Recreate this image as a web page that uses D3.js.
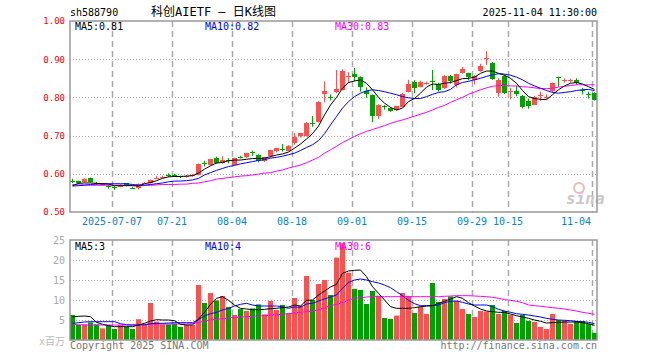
<!DOCTYPE html>
<html>
<head>
<meta charset="utf-8">
<script src="https://cdn.jsdelivr.net/npm/d3@7"></script>
<style>
  body { margin: 0; background: #fff; }
  text { font-family: "DejaVu Sans Mono", "Noto Sans CJK SC", monospace; }
</style>
</head>
<body>
<div id="chart"></div>
<script>
// sh588790 daily K chart, 2025-06-26 .. 2025-11-04

let dates = ["06-26","06-27","06-30","07-01","07-02","07-03","07-04",
  "07-07","07-08","07-09","07-10","07-11","07-14","07-15","07-16","07-17","07-18",
  "07-21","07-22","07-23","07-24","07-25","07-28","07-29","07-30","07-31","08-01",
  "08-04","08-05","08-06","08-07","08-08","08-11","08-12","08-13","08-14","08-15",
  "08-18","08-19","08-20","08-21","08-22","08-25","08-26","08-27","08-28","08-29",
  "09-01","09-02","09-03","09-04","09-05","09-08","09-09","09-10","09-11","09-12",
  "09-15","09-16","09-17","09-18","09-19","09-22","09-23","09-24","09-25","09-26",
  "09-29","09-30","10-09","10-10","10-13","10-14","10-15","10-16","10-17",
  "10-20","10-21","10-22","10-23","10-24","10-27","10-28","10-29","10-30","10-31",
  "11-03","11-04"];

let open  = [0.582,0.580,0.579,0.589,0.576,0.571,0.568,0.566,0.568,0.575,0.564,0.564,0.575,0.575,0.589,0.591,0.597,0.597,0.593,0.593,0.595,0.598,
             0.628,0.623,0.641,0.629,0.635,0.623,0.644,0.643,0.656,0.649,0.632,0.647,0.658,0.665,0.660,0.680,0.697,0.699,0.733,0.736,0.809,0.801,
             0.813,0.819,0.856,0.861,0.853,0.818,0.806,0.750,0.778,0.773,0.767,0.776,0.815,0.841,0.828,0.836,0.844,0.834,0.824,0.857,0.832,0.863,
             0.863,0.846,0.869,0.901,0.891,0.811,0.857,0.817,0.817,0.804,0.791,0.782,0.804,0.801,0.815,0.853,0.844,0.844,0.846,0.820,0.809,0.811];
let high  = [0.587,0.582,0.588,0.590,0.579,0.575,0.571,0.568,0.573,0.576,0.566,0.575,0.578,0.585,0.595,0.595,0.601,0.600,0.595,0.597,0.599,0.627,
             0.634,0.639,0.645,0.646,0.641,0.642,0.647,0.655,0.661,0.651,0.644,0.663,0.668,0.678,0.675,0.707,0.707,0.736,0.751,0.790,0.842,0.808,
             0.872,0.873,0.866,0.877,0.855,0.826,0.808,0.782,0.780,0.775,0.778,0.812,0.846,0.845,0.844,0.841,0.872,0.838,0.858,0.859,0.862,0.880,
             0.865,0.858,0.888,0.921,0.893,0.850,0.859,0.825,0.830,0.806,0.797,0.804,0.815,0.808,0.839,0.854,0.850,0.849,0.850,0.825,0.815,0.813];
let low   = [0.576,0.573,0.577,0.577,0.571,0.569,0.561,0.558,0.565,0.567,0.561,0.559,0.573,0.574,0.586,0.589,0.591,0.592,0.589,0.590,0.593,0.596,
             0.619,0.622,0.627,0.626,0.627,0.622,0.640,0.641,0.647,0.630,0.631,0.643,0.656,0.658,0.659,0.676,0.695,0.698,0.723,0.734,0.787,0.792,
             0.811,0.818,0.838,0.842,0.815,0.799,0.735,0.743,0.768,0.762,0.765,0.775,0.813,0.811,0.826,0.833,0.819,0.815,0.822,0.836,0.826,0.862,
             0.845,0.834,0.867,0.885,0.846,0.802,0.809,0.795,0.803,0.771,0.770,0.780,0.791,0.795,0.813,0.828,0.838,0.839,0.833,0.808,0.797,0.792];
let close = [0.581,0.575,0.586,0.579,0.575,0.572,0.567,0.565,0.569,0.569,0.563,0.574,0.576,0.584,0.590,0.592,0.596,0.596,0.592,0.594,0.596,0.626,
             0.627,0.638,0.629,0.636,0.634,0.641,0.643,0.654,0.655,0.632,0.643,0.662,0.667,0.664,0.674,0.697,0.706,0.734,0.732,0.789,0.818,0.800,
             0.822,0.870,0.857,0.854,0.828,0.809,0.752,0.780,0.777,0.764,0.777,0.809,0.835,0.824,0.840,0.837,0.843,0.819,0.856,0.843,0.860,0.874,
             0.853,0.856,0.883,0.902,0.848,0.846,0.813,0.818,0.809,0.776,0.777,0.802,0.805,0.802,0.837,0.851,0.845,0.845,0.837,0.819,0.808,0.793];

// volume, millions of shares
let volume = [6.25,3.75,3.9,4.4,3.9,2.9,3.6,2.75,3.75,3.3,2.75,5.2,3.75,9.25,4.6,3.9,3.9,4.1,3.25,3.75,3.75,13.75,
              9.25,11.75,9.9,11,8.25,6.25,7.75,7.25,7.9,8.9,6.4,9.75,7.5,8.75,6.7,10.5,8.6,16,10,14,15,11.25,
              20.6,24.2,16.8,12.8,12.5,9,12.25,11.1,5.5,5.25,6.1,11.75,11,6.75,8.3,6.5,14.25,9.5,10.25,10.9,9.8,7.75,
              6.5,5.75,7.25,7.1,8.75,6.5,7.25,6.25,4.25,6.25,4.8,4.5,3.25,2.75,6.5,5,4.9,4,4.75,4.75,4,1.8];

// moving averages as drawn on the chart
let ma5  = [0.569,0.575,0.576,0.576,0.575,0.574,0.573,0.569,0.569,0.569,0.569,0.568,0.574,0.577,0.582,0.588,0.592,0.593,0.593,0.594,0.595,0.602,
            0.612,0.621,0.628,0.630,0.634,0.636,0.636,0.638,0.640,0.640,0.641,0.645,0.649,0.652,0.657,0.667,0.678,0.691,0.705,0.725,0.754,0.780,
            0.800,0.824,0.839,0.843,0.846,0.837,0.820,0.800,0.785,0.774,0.767,0.772,0.789,0.797,0.811,0.827,0.835,0.834,0.837,0.839,0.844,0.849,
            0.850,0.853,0.863,0.869,0.869,0.863,0.858,0.850,0.837,0.818,0.802,0.797,0.795,0.794,0.807,0.820,0.830,0.837,0.839,0.835,0.828,0.821];
let ma10 = [0.568,0.569,0.570,0.572,0.573,0.574,0.574,0.574,0.574,0.574,0.572,0.570,0.570,0.572,0.574,0.576,0.579,0.581,0.581,0.582,0.584,0.588,
            0.597,0.603,0.609,0.614,0.619,0.622,0.626,0.629,0.632,0.635,0.637,0.641,0.643,0.646,0.650,0.654,0.661,0.669,0.676,0.687,0.705,0.728,
            0.750,0.772,0.789,0.802,0.811,0.817,0.820,0.818,0.815,0.811,0.807,0.802,0.799,0.797,0.797,0.802,0.808,0.813,0.815,0.821,0.833,0.839,
            0.842,0.846,0.850,0.855,0.859,0.862,0.861,0.858,0.853,0.846,0.837,0.830,0.824,0.818,0.813,0.811,0.813,0.815,0.818,0.820,0.821,0.818];
let ma30 = [0.572,0.571,0.571,0.570,0.570,0.570,0.570,0.570,0.570,0.570,0.570,0.570,0.570,0.570,0.571,0.572,0.572,0.572,0.573,0.573,0.575,0.576,
            0.579,0.582,0.586,0.588,0.590,0.592,0.594,0.595,0.597,0.599,0.602,0.603,0.607,0.610,0.615,0.619,0.623,0.629,0.636,0.643,0.654,0.663,
            0.672,0.682,0.690,0.698,0.705,0.711,0.716,0.721,0.726,0.732,0.737,0.741,0.746,0.751,0.756,0.761,0.767,0.774,0.779,0.787,0.794,0.800,
            0.808,0.814,0.820,0.825,0.829,0.831,0.831,0.830,0.830,0.828,0.827,0.825,0.823,0.823,0.824,0.827,0.829,0.831,0.833,0.833,0.833,0.833];

let vma5  = [5.75,5.92,6.0,5.83,4.42,3.92,3.58,3.33,3.33,3.33,3.33,3.75,4.17,4.75,5.08,5.0,5.0,4.83,3.92,3.75,3.75,5.25,
             6.92,8.92,10.42,10.83,9.92,8.75,7.92,7.75,7.58,7.58,7.67,7.83,7.92,8.08,8.25,8.75,8.5,9.92,10.0,11.25,12.25,13.25,
             13.92,16.67,17.25,17.42,17.5,15.83,13.33,11.67,10.0,8.33,7.92,7.92,7.92,8.08,8.33,8.5,8.58,9.17,9.67,10.25,10.83,10.42,
             9.33,8.5,7.75,7.25,7.08,6.92,6.92,6.5,6.08,5.75,5.42,5.0,4.67,4.25,4.33,4.42,4.5,4.5,4.5,4.33,4.08,3.67];
let vma10 = [4.17,4.33,4.5,4.58,4.58,4.58,4.58,4.58,4.08,3.83,3.75,3.75,3.83,4.08,4.17,4.17,4.25,4.33,4.33,4.33,4.33,5.08,
             6.0,6.58,6.92,7.5,7.92,8.5,8.92,9.17,8.75,8.5,8.5,8.5,8.5,8.33,7.92,8.25,8.17,9.0,9.17,9.75,10.25,10.75,
             11.25,12.92,14.42,15.0,15.25,15.0,14.58,14.25,13.75,13.08,12.08,11.08,9.92,9.08,8.58,8.58,8.58,8.75,9.33,9.67,9.75,9.42,
             9.0,8.75,8.75,8.75,8.33,7.67,7.25,6.92,6.58,6.42,6.25,6.0,5.75,5.42,5.17,5.0,4.92,4.83,4.67,4.58,4.42,4.08];
let vma30 = [3.92,3.83,3.75,3.75,3.75,3.75,3.75,3.75,3.75,3.75,3.75,3.75,3.83,3.92,4.0,4.0,4.0,4.0,4.0,4.0,4.08,4.33,
             4.75,5.0,5.17,5.33,5.5,5.67,5.75,5.83,5.92,6.0,6.08,6.25,6.33,6.42,6.58,6.75,6.92,7.08,7.25,7.58,8.0,8.58,
             8.92,9.33,10.0,10.42,10.58,10.75,10.83,10.83,10.83,10.83,10.83,10.83,10.83,10.83,10.83,10.83,10.83,10.83,10.92,11.0,11.08,11.08,
             11.08,11.0,10.92,10.83,10.67,10.42,10.08,9.92,9.67,9.33,8.75,8.58,8.42,8.25,8.08,7.92,7.75,7.5,7.25,6.92,6.67,6.42];

let dateTicks  = ["07-07","07-21","08-04","08-18","09-01","09-15","09-29","10-15","11-04"];
let dateLabels = ["2025-07-07","07-21","08-04","08-18","09-01","09-15","09-29","10-15","11-04"];
let priceTicks = [0.50, 0.60, 0.70, 0.80, 0.90, 1.00];
let volTicks   = [5, 10, 15, 20, 25];

let red = "#ff5050", green = "#00a000";
let left = 70, right = 597;

let svg = d3.select("#chart").append("svg")
  .attr("width", 660)
  .attr("height", 360);

let xScale = d3.scaleLinear().domain([0, dates.length]).range([left, left + 6 * dates.length]);
let yScale = d3.scaleLinear().domain([0.5, 1.0]).range([212, 21]);
let vScale = d3.scaleLinear().domain([0, 25]).range([340, 240]);
let barW = 5;

function crisp(v) { return Math.round(v) + 0.5; }

////////////////////////////////////////////////////////////////////////
// header

svg.append("text").attr("x", 70).attr("y", 16).attr("font-size", 10).attr("fill", "#000")
  .text("sh588790");
svg.append("text").attr("x", 151).attr("y", 16).attr("font-size", 12).attr("fill", "#000")
  .text("科创AIETF — 日K线图");
svg.append("text").attr("x", 597).attr("y", 16).attr("font-size", 10).attr("fill", "#000")
  .attr("text-anchor", "end").text("2025-11-04 11:30:00");

////////////////////////////////////////////////////////////////////////
// grids for both panels

function drawGrid(g, yTop, yBot, yVals, ys) {
  g.selectAll(".hgrid").data(yVals).enter().append("line")
    .attr("x1", left).attr("x2", right)
    .attr("y1", d => crisp(ys(d))).attr("y2", d => crisp(ys(d)))
    .attr("stroke", "#aaa").attr("stroke-dasharray", "1,2");
  g.selectAll(".vgrid").data(dateTicks).enter().append("line")
    .attr("x1", d => crisp(xScale(dates.indexOf(d))))
    .attr("x2", d => crisp(xScale(dates.indexOf(d))))
    .attr("y1", yTop).attr("y2", yBot)
    .attr("stroke", "#aaa").attr("stroke-width", 1.5).attr("stroke-dasharray", "6,4");
}

let gPrice = svg.append("g");
let gVol = svg.append("g");
drawGrid(gPrice, 21, 212, [0.6, 0.7, 0.8, 0.9], yScale);
drawGrid(gVol, 240, 340, [5, 10, 15, 20], vScale);

// sina watermark
svg.append("circle").attr("cx", 579).attr("cy", 188).attr("r", 5)
  .attr("fill", "none").attr("stroke", "#f2b8b8").attr("stroke-width", 2);
svg.append("text").attr("x", 566).attr("y", 204)
  .attr("font-family", "DejaVu Sans").attr("font-size", 16).attr("font-weight", "bold")
  .attr("font-style", "italic").attr("fill", "#c9c9c9").text("sina");

////////////////////////////////////////////////////////////////////////
// candles

let idx = d3.range(dates.length);
let colorOf = i => close[i] >= open[i] ? red : green;

gPrice.selectAll(".wick").data(idx).enter().append("line")
  .attr("x1", i => xScale(i) + 2.5).attr("x2", i => xScale(i) + 2.5)
  .attr("y1", i => yScale(high[i])).attr("y2", i => yScale(low[i]))
  .attr("stroke", colorOf);

gPrice.selectAll(".body").data(idx).enter().append("rect")
  .attr("x", i => xScale(i))
  .attr("width", barW)
  .attr("y", i => Math.round(yScale(Math.max(open[i], close[i]))))
  .attr("height", i => Math.max(1, Math.round(Math.abs(yScale(open[i]) - yScale(close[i])))))
  .attr("fill", colorOf);

let maLine = d3.line().x((d, i) => xScale(i) + 2.5).y(d => yScale(d));
[[ma30, "#ff00ff"], [ma10, "#0000ff"], [ma5, "#000"]].forEach(function(m) {
  gPrice.append("path").attr("d", maLine(m[0]))
    .attr("fill", "none").attr("stroke", m[1]).attr("stroke-width", 1);
});

////////////////////////////////////////////////////////////////////////
// volume

gVol.selectAll(".vbar").data(idx).enter().append("rect")
  .attr("x", i => xScale(i))
  .attr("width", barW)
  .attr("y", i => vScale(Math.min(volume[i], 25)))
  .attr("height", i => vScale(0) - vScale(Math.min(volume[i], 25)))
  .attr("fill", colorOf);

let vLine = d3.line().x((d, i) => xScale(i) + 2.5).y(d => vScale(d));
[[vma30, "#ff00ff"], [vma10, "#0000ff"], [vma5, "#000"]].forEach(function(m) {
  gVol.append("path").attr("d", vLine(m[0]))
    .attr("fill", "none").attr("stroke", m[1]).attr("stroke-width", 1);
});

////////////////////////////////////////////////////////////////////////
// frames and axes

[[21, 212], [240, 340]].forEach(function(r) {
  svg.append("rect").attr("x", left).attr("y", r[0])
    .attr("width", right - left).attr("height", r[1] - r[0])
    .attr("fill", "none").attr("stroke", "#999").attr("stroke-width", 1.5);
});

let yAxis = svg.append("g").attr("transform", "translate(" + left + ",0)")
  .call(d3.axisLeft(yScale).tickValues(priceTicks).tickSize(0).tickPadding(5)
        .tickFormat(d3.format(".2f")));
yAxis.select(".domain").remove();
yAxis.selectAll("text").attr("font-family", "DejaVu Sans Mono").attr("font-size", 9).attr("fill", "#ff0000");

let vAxis = svg.append("g").attr("transform", "translate(" + left + ",0)")
  .call(d3.axisLeft(vScale).tickValues(volTicks).tickSize(0).tickPadding(5));
vAxis.select(".domain").remove();
vAxis.selectAll("text").attr("font-family", "DejaVu Sans Mono").attr("font-size", 10).attr("fill", "#aaa");

svg.append("text").attr("x", 65).attr("y", 345).attr("text-anchor", "end")
  .attr("font-size", 10).attr("fill", "#bbb").text("x百万");

svg.selectAll(".dlabel").data(dateTicks).enter().append("text")
  .attr("x", function(d, k) {
    let gx = xScale(dates.indexOf(d));
    let w = dateLabels[k].length * 6;
    return Math.min(gx, 591 - w / 2);
  })
  .attr("y", 225).attr("text-anchor", "middle")
  .attr("font-size", 10).attr("fill", "#0a82d2")
  .text((d, k) => dateLabels[k]);

////////////////////////////////////////////////////////////////////////
// MA legends and footer

function legend(y, items) {
  items.forEach(function(it) {
    svg.append("text").attr("x", it[0]).attr("y", y).attr("font-size", 10)
      .attr("fill", it[2]).text(it[1]);
  });
}
legend(30, [[75, "MA5:0.81", "#000"], [205, "MA10:0.82", "#0000ff"], [335, "MA30:0.83", "#ff00ff"]]);
legend(250, [[75, "MA5:3", "#000"], [205, "MA10:4", "#0000ff"], [335, "MA30:6", "#ff00ff"]]);

svg.append("text").attr("x", 70).attr("y", 349).attr("font-size", 10).attr("fill", "#777")
  .text("Copyright 2025 SINA.COM");
svg.append("text").attr("x", 597).attr("y", 349).attr("font-size", 10).attr("fill", "#777")
  .attr("text-anchor", "end").text("http://finance.sina.com.cn");
</script>
</body>
</html>
